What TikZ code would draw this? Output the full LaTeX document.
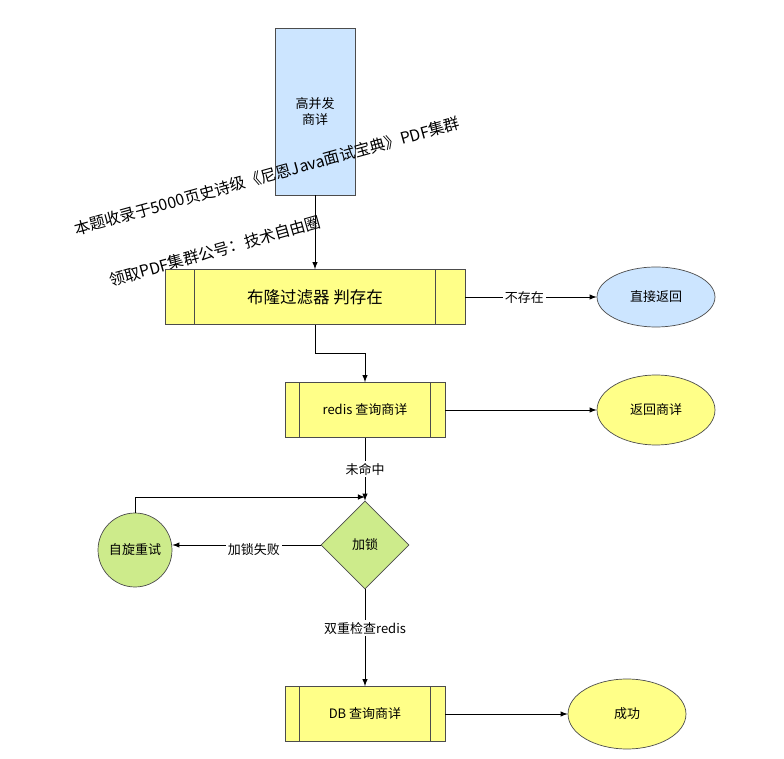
\documentclass[tikz,border=0pt]{standalone}
\usepackage{fontspec}
\setmainfont{Noto Sans CJK SC}
\usetikzlibrary{shapes.geometric}
\usetikzlibrary{positioning}
\definecolor{lblue}{HTML}{CCE5FF}
\definecolor{lyellow}{HTML}{FFFF88}
\definecolor{lgreen}{HTML}{CDEB8B}
\tikzset{
proc/.style={draw=black!70,fill=lyellow,minimum height=11mm,inner sep=0pt,font=\fontsize{7.4}{9}\selectfont},
oval/.style={draw=black!70,shape=ellipse,minimum width=23.6mm,font=\fontsize{7.4}{9}\selectfont},
lbl/.style={fill=white,inner sep=1pt,font=\fontsize{7.4}{9}\selectfont},
}
\begin{document}
\begin{tikzpicture}[x=0.02cm,y=-0.02cm]
\useasboundingbox(0,0)rectangle(784,759);
\node[draw=black!70,fill=lblue,minimum width=16mm,minimum height=33.4mm,align=center,
font=\fontsize{7.4}{9}\selectfont](Top)at(315,111.5){高并发\\商详};
\node[rotate=15.5,font=\fontsize{9}{11}\selectfont](M1)at(267,176){本题收录于5000页史诗级《尼恩Java面试宝典》PDF集群};
\node[rotate=15.7,font=\fontsize{9}{11}\selectfont](M2)at(215,251){领取PDF集群公号：技术自由圈};

\node[proc,minimum width=60mm,font=\fontsize{9.4}{11}\selectfont](Bloom)at(315,297){布隆过滤器 判存在};
\draw[black!70]([xshift=6mm]Bloom.north west)--([xshift=6mm]Bloom.south west);
\draw[black!70]([xshift=-6mm]Bloom.north east)--([xshift=-6mm]Bloom.south east);
\node[oval,fill=lblue,minimum height=12mm](Ret1)at(656,297){直接返回};

\node[proc,minimum width=32mm](Redis)at(365,410){redis 查询商详};
\draw[black!70]([xshift=3mm]Redis.north west)--([xshift=3mm]Redis.south west);
\draw[black!70]([xshift=-3mm]Redis.north east)--([xshift=-3mm]Redis.south east);
\node[oval,fill=lyellow,minimum height=14mm](Ret2)at(656,410){返回商详};

\node[draw=black!70,fill=lgreen,shape=diamond,minimum width=17.6mm,minimum height=17.6mm,
inner sep=0pt,font=\fontsize{7.4}{9}\selectfont](Lock)at(365,545){加锁};
\node[draw=black!70,fill=lgreen,shape=circle,minimum size=14.8mm,inner sep=0pt,
font=\fontsize{7.4}{9}\selectfont](Spin)at(135,550){自旋重试};

\node[proc,minimum width=32mm](DB)at(365,714){DB 查询商详};
\draw[black!70]([xshift=3mm]DB.north west)--([xshift=3mm]DB.south west);
\draw[black!70]([xshift=-3mm]DB.north east)--([xshift=-3mm]DB.south east);
\node[oval,fill=lyellow,minimum height=14mm](Ok)at(627,714){成功};

\coordinate(Merge)at(365,497);
\draw[-latex](Top)--(Bloom);
\draw[-latex](Bloom)--node[lbl,pos=0.45,below=-4pt]{不存在}(Ret1);
\draw[-latex](Bloom.south)--++(0,29)-|(Redis.north);
\draw[-latex](Redis)--(Ret2);
\draw[-latex](Redis)--node[lbl]{未命中}(Lock.north);
\draw[-latex](Lock)--node[lbl,pos=0.45,above=-7pt]{加锁失败}(Spin.east|-Lock);
\draw[-latex](Spin.north)|-(Merge);
\draw[-latex](Lock)--node[lbl,pos=0.4]{双重检查redis}(DB);
\draw[-latex](DB)--(Ok);
\end{tikzpicture}
\end{document}
